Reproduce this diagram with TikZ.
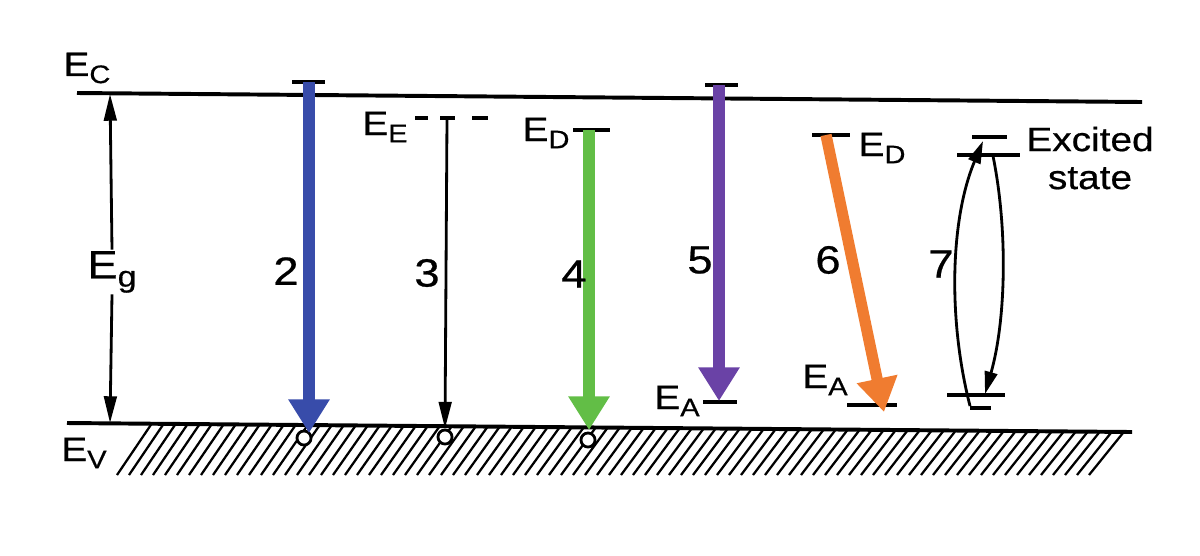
\documentclass[tikz,border=0pt]{standalone}
\usepackage{fontspec}
\setmainfont{Liberation Sans}[FakeStretch=1.15, FakeBold=0.6]
\usetikzlibrary{arrows.meta}

\definecolor{arrblue}{RGB}{56,76,170}
\definecolor{arrgreen}{RGB}{98,190,70}
\definecolor{arrpurple}{RGB}{106,66,166}
\definecolor{arrorange}{RGB}{240,124,48}

\newcommand{\Elev}[1]{E\raisebox{-0.4ex}{\fontsize{18}{18}\selectfont #1}}

\tikzset{
  band/.style={line width=2.8pt},
  lvlbar/.style={line width=3pt},
  hatchline/.style={line width=1.6pt},
  fatarrow/.style={line width=8pt, -{Triangle[width=28pt,length=24pt]}},
  thinarrow/.style={line width=2pt, -{Triangle[width=9pt,length=19pt]}},
  hole/.style={circle, draw, fill=white, line width=2pt, inner sep=0pt, minimum size=10pt},
  lab/.style={font=\fontsize{24}{27}\selectfont, inner sep=1pt},
  num/.style={font=\fontsize{28}{30}\selectfont, inner sep=1pt}
}

\begin{document}
\begin{tikzpicture}[x=0.025cm, y=-0.025cm]
    \useasboundingbox (0,0) rectangle (1200,555);

    % Band edges
    \draw [band] (77,93) -- (1142,102);
    \draw [band] (67,423) -- (1132,432);

    % Hatching below the valence band
    \foreach \x in {117,129,...,1095} {
        \draw [hatchline] (\x,475) -- ({\x+34},{424+(\x+34-67)*9/1065});
    }

    % Band labels
    \node [lab] (ec) at (87,68) {\Elev{C}};
    \node [lab] (ev) at (84,453) {\Elev{V}};

    % Band gap
    \coordinate (egtop) at (110,94);
    \coordinate (egbot) at (110,423);
    \node [num] (eg) at (112,272) {E\raisebox{-0.4ex}{\fontsize{21}{21}\selectfont g}};
    \draw [thinarrow] (eg.north) -- (egtop);
    \draw [thinarrow] (eg.south) -- (egbot);

    % Transition 2
    \draw [lvlbar] (292,82) -- (325,82);
    \coordinate (t2) at (309,82);
    \coordinate (b2) at (309,433);
    \node [hole] (h2) at (304,438) {};
    \draw [fatarrow, arrblue] (t2) -- (b2);
    \node [num] (n2) at (286,271) {2};

    % Transition 3
    \draw [lvlbar] (415,118) -- (428,118);
    \draw [lvlbar] (440,118) -- (455,118);
    \draw [lvlbar] (472,118) -- (488,118);
    \node [lab] (ee) at (385,127) {\Elev{E}};
    \coordinate (t3) at (447,118);
    \node [hole] (h3) at (445,437) {};
    \draw [thinarrow] (t3) -- (h3.north);
    \node [num] (n3) at (427,273) {3};

    % Transition 4
    \draw [lvlbar] (573,130) -- (610,130);
    \node [lab] (ed4) at (546,133) {\Elev{D}};
    \coordinate (t4) at (589,130);
    \coordinate (b4) at (589,430);
    \node [hole] (h4) at (588,440) {};
    \draw [fatarrow, arrgreen] (t4) -- (b4);
    \node [num] (n4) at (574,274) {4};

    % Transition 5
    \draw [lvlbar] (705,85) -- (738,85);
    \draw [lvlbar] (703,402) -- (737,402);
    \node [lab] (ea5) at (677,401) {\Elev{A}};
    \coordinate (t5) at (719,85);
    \coordinate (b5) at (719,401);
    \draw [fatarrow, arrpurple] (t5) -- (b5);
    \node [num] (n5) at (700,260) {5};

    % Transition 6
    \draw [lvlbar] (812,135) -- (850,135);
    \draw [lvlbar] (847,405) -- (897,405);
    \node [lab] (ed6) at (882,148) {\Elev{D}};
    \node [lab] (ea6) at (825,380) {\Elev{A}};
    \coordinate (t6) at (826,135);
    \coordinate (b6) at (884,412);
    \draw [fatarrow, arrorange] (t6) -- (b6);
    \node [num] (n6) at (828,260) {6};

    % Transition 7
    \draw [lvlbar] (972,137) -- (1007,137);
    \draw [lvlbar] (957,155) -- (1020,155);
    \draw [lvlbar] (947,395) -- (1005,395);
    \draw [lvlbar] (970,408) -- (991,408);
    \coordinate (l7) at (970,406);
    \coordinate (u7) at (983,141);
    \coordinate (s7) at (993,156);
    \coordinate (e7) at (985,394);
    \draw [thinarrow, -{Triangle[width=9pt,length=16pt]}] (l7) .. controls (948,320) and (950,220) .. (u7);
    \draw [thinarrow, -{Triangle[width=9pt,length=16pt]}] (s7) .. controls (1008,230) and (1006,320) .. (e7);
    \node [num] (n7) at (941,264) {7};
    \node [lab, align=center] (exc) at (1090,158) {Excited\\state};
\end{tikzpicture}
\end{document}
